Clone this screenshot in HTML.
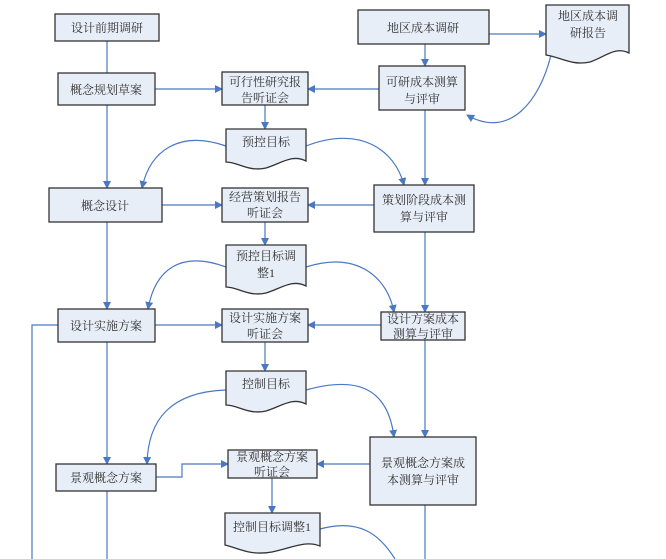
<!DOCTYPE html>
<html><head><meta charset="utf-8"><style>
html,body{margin:0;padding:0;background:#fff;}
svg{display:block;}
text{font-family:"Liberation Serif","Noto Serif CJK SC","Noto Sans CJK SC",serif;font-size:12px;fill:#333;text-anchor:middle;}
.b{fill:#e8eef8;stroke:#333;stroke-width:1.3;}
.l{stroke:#4a78c2;stroke-width:1.2;fill:none;}
</style></head><body>
<svg width="666" height="559" viewBox="0 0 666 559" xmlns="http://www.w3.org/2000/svg">
<defs><marker id="a" markerWidth="8" markerHeight="8" refX="7" refY="4" orient="auto" markerUnits="userSpaceOnUse"><path d="M0,0 L8,4 L0,8 z" fill="#4a78c2"/></marker></defs>

<g class="l">
<path d="M107,41 V92" marker-end="url(#a)"/>
<path d="M107,105 V188" marker-end="url(#a)"/>
<path d="M107,222 V309" marker-end="url(#a)"/>
<path d="M107,342 V464" marker-end="url(#a)"/>
<path d="M107,491 V559"/>
<path d="M58,325 H32 V559"/>
<path d="M155,89 H222" marker-end="url(#a)"/>
<path d="M162,205 H222" marker-end="url(#a)"/>
<path d="M155,325 H222" marker-end="url(#a)"/>
<path d="M156,477 H182 V464 H228" marker-end="url(#a)"/>
<path d="M379,89 H308" marker-end="url(#a)"/>
<path d="M374,205 H308" marker-end="url(#a)"/>
<path d="M381,325 H308" marker-end="url(#a)"/>
<path d="M370,464 H317" marker-end="url(#a)"/>
<path d="M489,34 H546" marker-end="url(#a)"/>
<path d="M425,44 V66" marker-end="url(#a)"/>
<path d="M425,110 V185" marker-end="url(#a)"/>
<path d="M425,232 V312" marker-end="url(#a)"/>
<path d="M425,340 V437" marker-end="url(#a)"/>
<path d="M425,505 V559"/>
<path d="M265,105 V129" marker-end="url(#a)"/>
<path d="M265,222 V245" marker-end="url(#a)"/>
<path d="M265,342 V371" marker-end="url(#a)"/>
<path d="M272,478 V513" marker-end="url(#a)"/>
<path d="M551,55 C540,100 510,140 467,115" marker-end="url(#a)"/>
<path d="M226,146 C180,130 150,150 142,188" marker-end="url(#a)"/>
<path d="M306,146 C360,125 395,150 404,185" marker-end="url(#a)"/>
<path d="M226,267 C180,250 155,270 148,309" marker-end="url(#a)"/>
<path d="M306,267 C360,250 388,280 394,312" marker-end="url(#a)"/>
<path d="M226,390 C170,392 148,420 147,464" marker-end="url(#a)"/>
<path d="M306,390 C360,375 388,390 394,437" marker-end="url(#a)"/>
<path d="M320,529 C360,518 380,535 395,559"/>
</g>

<rect class="b" x="55" y="14" width="104" height="27"/><text x="107" y="32">设计前期调研</text>
<rect class="b" x="358" y="10" width="131" height="34"/><text x="423" y="32">地区成本调研</text>
<rect class="b" x="58" y="73" width="97" height="32"/><text x="106" y="94">概念规划草案</text>
<rect class="b" x="222" y="72" width="86" height="33"/><text x="265" y="86">可行性研究报</text><text x="265" y="102">告听证会</text>
<rect class="b" x="379" y="66" width="86" height="44"/><text x="422" y="86">可研成本测算</text><text x="422" y="103">与评审</text>
<rect class="b" x="49" y="188" width="113" height="34"/><text x="105" y="210">概念设计</text>
<rect class="b" x="222" y="188" width="86" height="34"/><text x="265" y="201">经营策划报告</text><text x="265" y="217">听证会</text>
<rect class="b" x="374" y="185" width="100" height="47"/><text x="424" y="204">策划阶段成本测</text><text x="424" y="221">算与评审</text>
<rect class="b" x="58" y="309" width="97" height="33"/><text x="106" y="330">设计实施方案</text>
<rect class="b" x="222" y="309" width="86" height="33"/><text x="265" y="322">设计实施方案</text><text x="265" y="338">听证会</text>
<rect class="b" x="381" y="312" width="84" height="28"/><text x="423" y="323">设计方案成本</text><text x="423" y="338">测算与评审</text>
<rect class="b" x="56" y="464" width="100" height="27"/><text x="106" y="482">景观概念方案</text>
<rect class="b" x="228" y="450" width="89" height="28"/><text x="272" y="461">景观概念方案</text><text x="272" y="476">听证会</text>
<rect class="b" x="370" y="437" width="106" height="68"/><text x="423" y="467">景观概念方案成</text><text x="423" y="484">本测算与评审</text>

<path class="b" d="M546,5 H629 V53 C615,46 605,57 590,62 C572,66 560,57 546,55 Z"/><text x="588" y="20">地区成本调</text><text x="588" y="37">研报告</text>
<path class="b" d="M226,129 H306 V161 C292,154 282,163 266,168 C248,172 238,162 226,162 Z"/><text x="266" y="146">预控目标</text>
<path class="b" d="M226,245 H306 V286 C292,279 282,288 266,293 C248,297 238,287 226,287 Z"/><text x="266" y="260">预控目标调</text><text x="266" y="277">整1</text>
<path class="b" d="M226,371 H306 V404 C292,397 282,406 266,411 C248,415 238,405 226,405 Z"/><text x="266" y="388">控制目标</text>
<path class="b" d="M225,513 H320 V546 C305,540 292,548 272,552 C250,556 238,548 225,545 Z"/><text x="272" y="531">控制目标调整1</text>
</svg>
</body></html>
